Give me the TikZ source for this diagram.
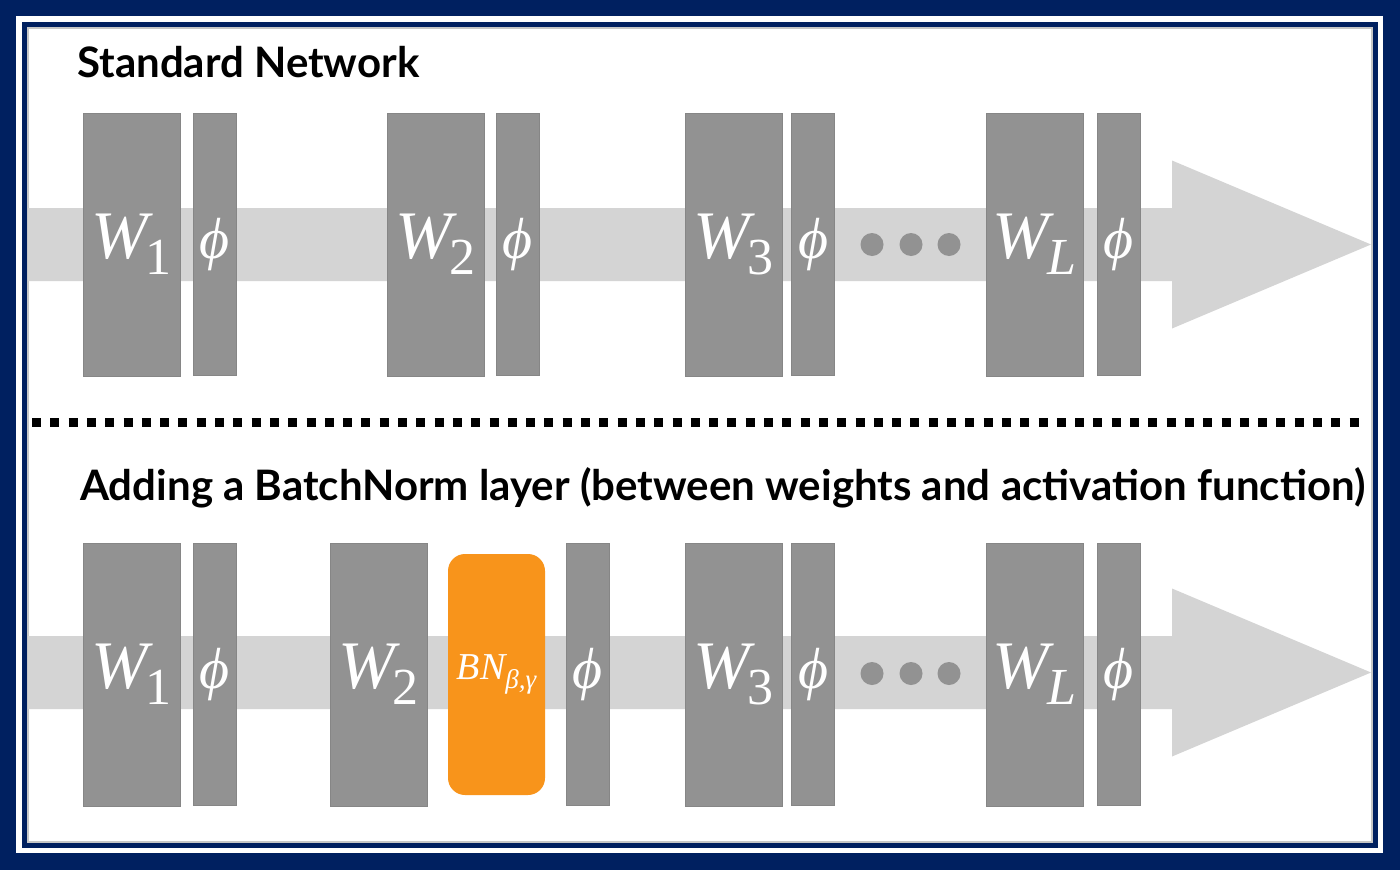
\documentclass[tikz,border=0pt]{standalone}
\usepackage{fontspec}
\usepackage{tikz}
\usetikzlibrary{arrows}

\newfontfamily\serifont{Liberation Serif}
\newfontfamily\titlefont{Lato}

\definecolor{navy}{RGB}{0,32,96}
\definecolor{boxgray}{RGB}{146,146,146}
\definecolor{boxedge}{RGB}{134,134,134}
\definecolor{bandgray}{RGB}{212,212,212}
\definecolor{bnorange}{RGB}{248,148,27}

\newcommand{\wlab}[1]{{\serifont\itshape W}\kern-2pt\raisebox{-16pt}{\serifont\fontsize{52}{52}\selectfont #1}}
\newcommand{\philab}{{\serifont\itshape\fontsize{58}{58}\selectfont ϕ}}

\begin{document}
\begin{tikzpicture}[x=1pt,y=-1pt]

	\tikzstyle wbox=[fill=boxgray,draw=boxedge,minimum width=97pt,minimum height=263pt,inner sep=0pt,text=white,font=\serifont\fontsize{68}{68}\selectfont];
	\tikzstyle phibox=[wbox,minimum width=43pt,minimum height=262pt];
	\tikzstyle bnbox=[fill=bnorange,rounded corners=17pt,minimum width=97pt,minimum height=241pt,inner sep=0pt,text=white,font=\serifont\itshape\fontsize{38}{38}\selectfont];
	\tikzstyle dot=[circle,fill=boxgray,minimum size=23pt,inner sep=0pt];
	\tikzstyle band=[fill=bandgray];
	\tikzstyle heading=[anchor=base west,inner sep=0pt,font=\titlefont\bfseries\fontsize{42}{42}\selectfont];

	\useasboundingbox (0,0) rectangle (1400,870);

	% frame
	\fill[navy] (0,0) rectangle (1400,870);
	\fill[white] (16,16) rectangle (1383,853);
	\fill[navy] (22,22) rectangle (1378,848);
	\filldraw[fill=white,draw=black!22,line width=2pt] (28,28) rectangle (1372,842);

	% headings
	\node[heading] (ttop) at (77,77) {Standard Network};
	\node[heading] (tbot) at (80,500) {Adding a BatchNorm layer (between weights and activation function)};

	\draw[line width=9pt,dash pattern=on 9pt off 9.3pt] (32,422) -- (1366,422);

	% flow arrows
	\foreach \y in {244.5,672.5}
		\fill[band] (28,\y-36.5) -- (1172,\y-36.5) -- (1172,\y-84) -- (1371,\y) -- (1172,\y+84) -- (1172,\y+36.5) -- (28,\y+36.5) -- cycle;

	% standard network
	\foreach \x/\name/\sub in {131.5/1/1,435.5/2/2,733.5/3/3,1034.5/L/\itshape L}
		\node[wbox] (tw\name) at (\x,244.5) {\wlab{\sub}};

	\foreach \x/\name in {215/1,517.5/2,813/3,1118.5/L}
		\node[phibox] (tp\name) at (\x,244.5) {\philab};

	\foreach \x/\name in {872/1,911/2,949/3}
		\node[dot] (td\name) at (\x,244.5) {};

	% with batchnorm
	\foreach \x/\name/\sub in {131.5/1/1,378.5/2/2,733.5/3/3,1034.5/L/\itshape L}
		\node[wbox] (bw\name) at (\x,674.5) {\wlab{\sub}};

	\node[bnbox] (bn) at (496.5,674.5) {BN\raisebox{-9pt}{\fontsize{27}{27}\selectfont β,γ}};

	\foreach \x/\name in {215/1,587.5/2,813/3,1118.5/L}
		\node[phibox] (bp\name) at (\x,674.5) {\philab};

	\foreach \x/\name in {872/1,911/2,949/3}
		\node[dot] (bd\name) at (\x,673.5) {};

\end{tikzpicture}
\end{document}
